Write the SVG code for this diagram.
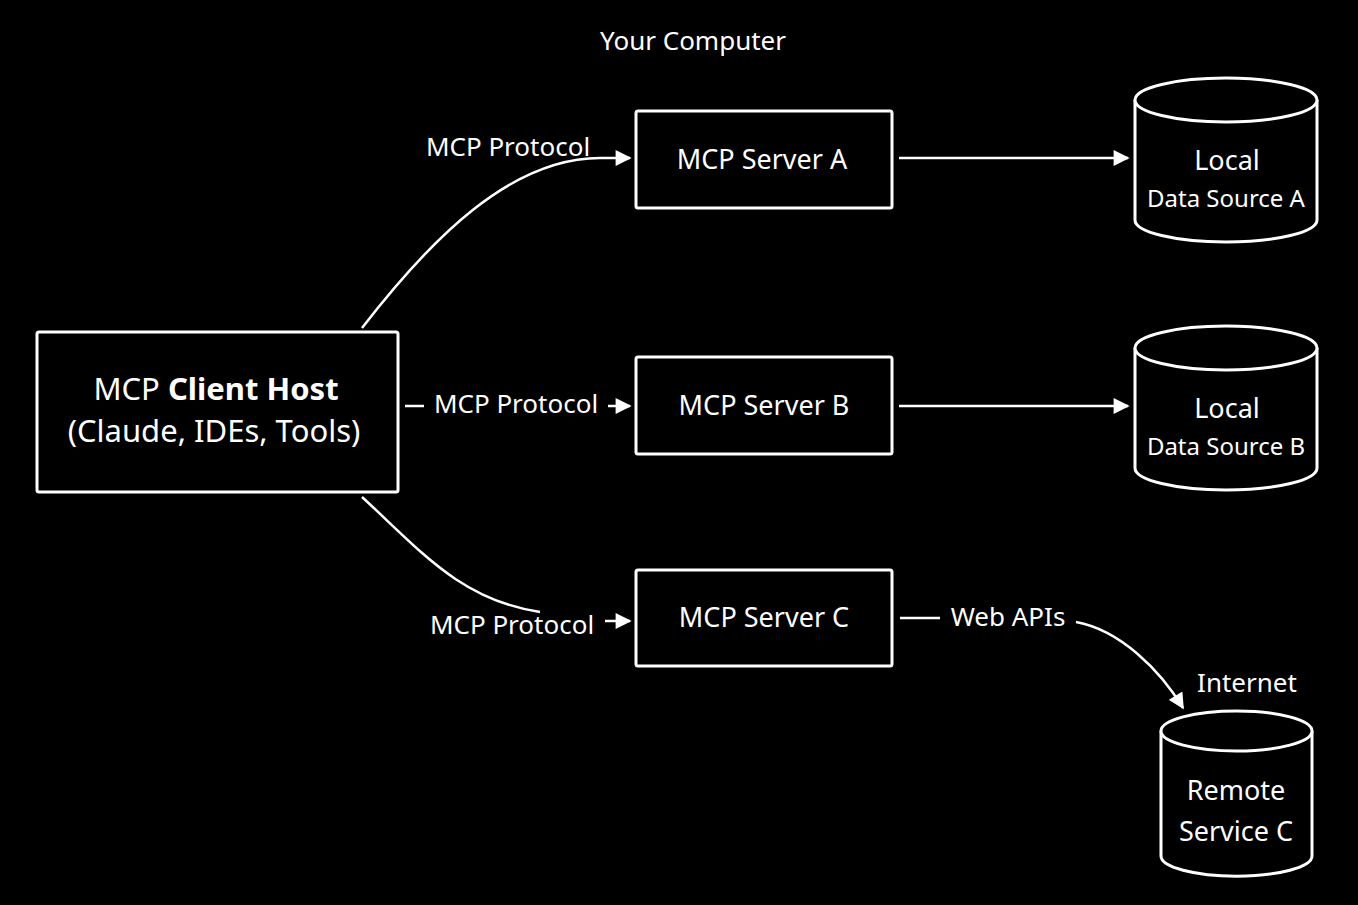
<svg xmlns="http://www.w3.org/2000/svg" width="1358" height="905" viewBox="0 0 1358 905">
<defs>
<marker id="ah" viewBox="0 0 10 10" refX="9" refY="5" markerWidth="18" markerHeight="16" markerUnits="userSpaceOnUse" orient="auto">
<path d="M0,0 L10,5 L0,10 z" fill="#fff"/>
</marker>
<style>
text{font-family:"Noto Sans","DejaVu Sans",sans-serif;fill:#fff;text-anchor:middle}
.box{fill:#000;stroke:#fff;stroke-width:3}
.c{fill:none;stroke:#fff;stroke-width:2.5}
.lbl{font-size:26px}
.nt{font-size:27px}
</style>
</defs>
<rect width="1358" height="905" fill="#000"/>
<text x="693" y="50" class="lbl">Your Computer</text>
<g id="connectors">
<path class="c" d="M362,328 C430,240 510,158 600,158 L630,158" marker-end="url(#ah)"/>
<path class="c" d="M405,406 L424,406"/>
<path class="c" d="M608,406 L630,406" marker-end="url(#ah)"/>
<path class="c" d="M362,497 C420,550 460,600 540,612"/>
<path class="c" d="M605,621 L630,621" marker-end="url(#ah)"/>
<path class="c" d="M899,158 L1128,158" marker-end="url(#ah)"/>
<path class="c" d="M899,406 L1128,406" marker-end="url(#ah)"/>
<path class="c" d="M900,618 L940,618"/>
<path class="c" d="M1076,622 C1120,630 1160,670 1183,708" marker-end="url(#ah)"/>
<text x="508" y="156" class="lbl">MCP Protocol</text>
<text x="516" y="413" class="lbl">MCP Protocol</text>
<text x="512" y="634" class="lbl">MCP Protocol</text>
<text x="1008" y="626" class="lbl">Web APIs</text>
<text x="1247" y="692" class="lbl">Internet</text>
</g>
<g id="client">
<rect class="box" x="37" y="332" width="361" height="160" rx="2"/>
<text x="216" y="400" style="font-size:31px">MCP <tspan font-weight="bold">Client Host</tspan></text>
<text x="214" y="442" style="font-size:31px">(Claude, IDEs, Tools)</text>
</g>
<g id="serverA"><rect class="box" x="636" y="111" width="256" height="97" rx="2"/><text x="762" y="169" class="nt">MCP Server A</text></g>
<g id="serverB"><rect class="box" x="636" y="357" width="256" height="97" rx="2"/><text x="764" y="415" class="nt">MCP Server B</text></g>
<g id="serverC"><rect class="box" x="636" y="570" width="256" height="96" rx="2"/><text x="764" y="627" class="nt">MCP Server C</text></g>
<g id="dataA">
<path class="box" d="M1135,100 L1135,220 A91,22 0 0 0 1317,220 L1317,100"/>
<ellipse class="box" cx="1226" cy="100" rx="91" ry="22"/>
<text x="1227" y="170" class="nt">Local</text>
<text x="1226" y="207" style="font-size:24px">Data Source A</text>
</g>
<g id="dataB">
<path class="box" d="M1135,348 L1135,468 A91,22 0 0 0 1317,468 L1317,348"/>
<ellipse class="box" cx="1226" cy="348" rx="91" ry="22"/>
<text x="1227" y="418" class="nt">Local</text>
<text x="1226" y="455" style="font-size:24px">Data Source B</text>
</g>
<g id="remote">
<path class="box" d="M1161,731 L1161,856 A75,20 0 0 0 1312,856 L1312,731"/>
<ellipse class="box" cx="1236.5" cy="731" rx="75.5" ry="20"/>
<text x="1236" y="800" class="nt">Remote</text>
<text x="1236" y="841" class="nt">Service C</text>
</g>
</svg>
